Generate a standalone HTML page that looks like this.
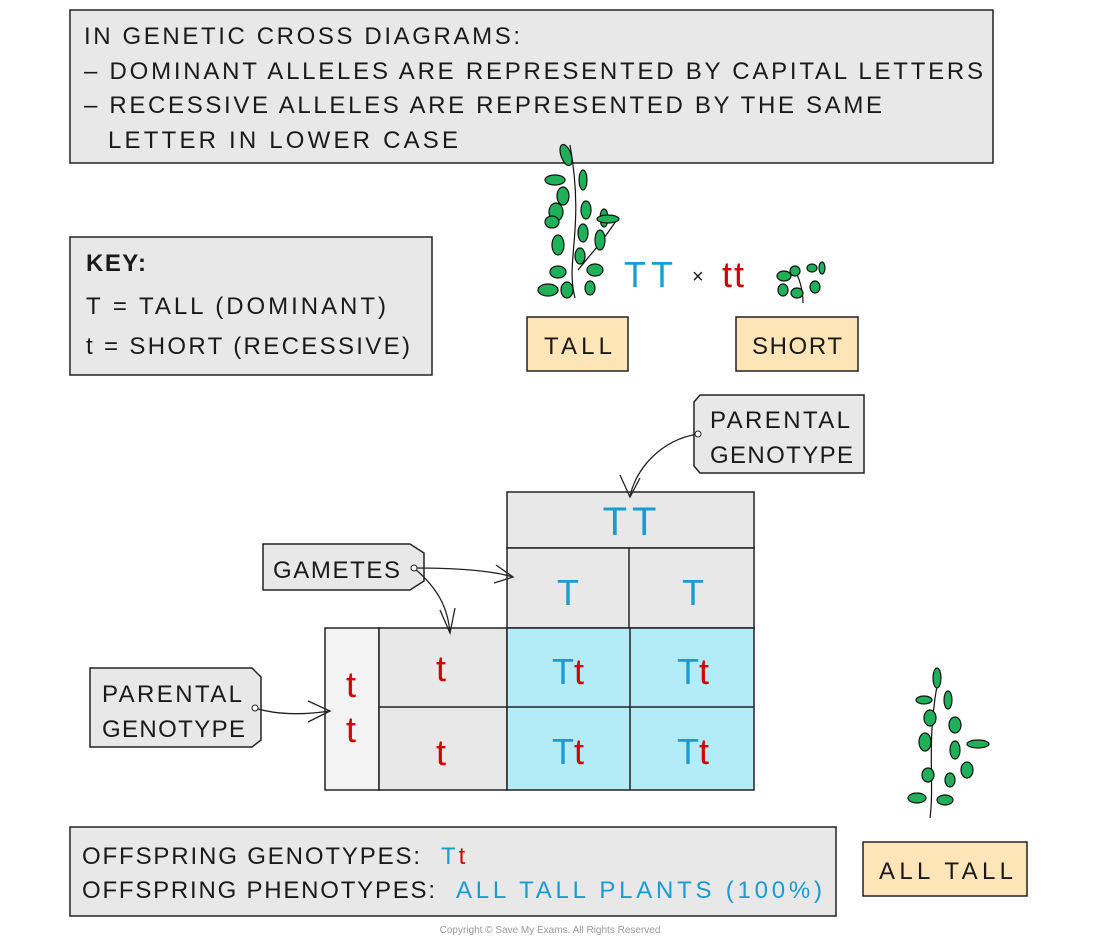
<!DOCTYPE html>
<html><head><meta charset="utf-8"><style>
html,body{margin:0;padding:0;background:#fff}
svg{display:block}
text{font-family:"Liberation Sans",sans-serif;fill:#1a1a1a}
</style></head><body>
<svg width="1100" height="941" viewBox="0 0 1100 941" xmlns="http://www.w3.org/2000/svg">
<g stroke="#222" stroke-width="1.5">
<rect x="70" y="10" width="923" height="153" fill="#e8e8e8"/>
<rect x="70" y="237" width="362" height="138" fill="#e8e8e8"/>
<rect x="527" y="317" width="101" height="54" fill="#fde5b8"/>
<rect x="736" y="317" width="122" height="54" fill="#fde5b8"/>
<path d="M700 395 H864 V473 H700 L694 466 V402 Z" fill="#e8e8e8"/>
<path d="M263 544 H410 L424 553 V581 L410 590 H263 Z" fill="#e8e8e8"/>
<path d="M90 668 H252 L261 677 V740 L252 747 H90 Z" fill="#e8e8e8"/>
<rect x="507" y="492" width="247" height="56" fill="#e8e8e8"/>
<rect x="507" y="548" width="247" height="80" fill="#e8e8e8"/>
<line x1="629" y1="548" x2="629" y2="628"/>
<rect x="325" y="628" width="54" height="162" fill="#f3f3f3"/>
<rect x="379" y="628" width="128" height="162" fill="#e8e8e8"/>
<line x1="379" y1="707" x2="507" y2="707"/>
<rect x="507" y="628" width="247" height="162" fill="#b3ebf7"/>
<line x1="630" y1="628" x2="630" y2="790"/>
<line x1="507" y1="707" x2="754" y2="707"/>
<rect x="70" y="827" width="766" height="89" fill="#e8e8e8"/>
<rect x="863" y="842" width="164" height="54" fill="#fde5b8"/>
</g>
<g fill="none" stroke="#222" stroke-width="1.3">
<path d="M698 434 C660 440 635 470 630 497"/><path d="M620 475 L630 497 L640 478"/>
<path d="M414 568 C450 568 490 570 513 577"/><path d="M496 565 L513 577 L494 583"/>
<path d="M414 568 C440 590 448 610 450 633"/><path d="M440 610 L450 633 L455 608"/>
<path d="M255 708 C280 716 310 714 330 711"/><path d="M308 701 L330 711 L308 722"/>
</g>
<circle cx="698" cy="434" r="3" fill="#fff" stroke="#222"/>
<circle cx="414" cy="568" r="3" fill="#fff" stroke="#222"/>
<circle cx="255" cy="708" r="3" fill="#fff" stroke="#222"/>
<g font-size="24">
<text x="84" y="44" textLength="436">IN GENETIC CROSS DIAGRAMS:</text>
<text x="84" y="79" textLength="899">– DOMINANT ALLELES ARE REPRESENTED BY CAPITAL LETTERS</text>
<text x="84" y="113" textLength="798">– RECESSIVE ALLELES ARE REPRESENTED BY THE SAME</text>
<text x="108" y="148" textLength="350">LETTER IN LOWER CASE</text>
<text x="86" y="271" textLength="60" font-weight="bold">KEY:</text>
<text x="86" y="314" textLength="300">T = TALL (DOMINANT)</text>
<text x="86" y="354" textLength="324">t = SHORT (RECESSIVE)</text>
<text x="544" y="354" textLength="68">TALL</text>
<text x="752" y="354" textLength="90">SHORT</text>
<text x="710" y="428" textLength="140">PARENTAL</text>
<text x="710" y="463" textLength="143">GENOTYPE</text>
<text x="273" y="578" textLength="127">GAMETES</text>
<text x="102" y="702" textLength="140">PARENTAL</text>
<text x="102" y="737" textLength="143">GENOTYPE</text>
<text x="82" y="864" textLength="338">OFFSPRING GENOTYPES:</text>
<text x="441" y="864" style="fill:#1a9bd1" letter-spacing="3">T<tspan style="fill:#d40000">t</tspan></text>
<text x="82" y="898" textLength="353">OFFSPRING PHENOTYPES:</text>
<text x="456" y="898" textLength="366" style="fill:#1a9bd1">ALL TALL PLANTS (100%)</text>
<text x="879" y="879" textLength="134">ALL TALL</text>
</g>
<g font-size="36">
<text x="624" y="287" style="fill:#1a9bd1" letter-spacing="5">TT</text>
<text x="692" y="283" font-size="20">×</text>
<text x="722" y="287" style="fill:#d40000" letter-spacing="2">tt</text>
<text x="632" y="535" text-anchor="middle" style="fill:#1a9bd1" font-size="40" letter-spacing="5">TT</text>
<text x="568" y="605" text-anchor="middle" style="fill:#1a9bd1">T</text>
<text x="693" y="605" text-anchor="middle" style="fill:#1a9bd1">T</text>
<text x="441" y="681" text-anchor="middle" style="fill:#d40000">t</text>
<text x="441" y="765" text-anchor="middle" style="fill:#d40000">t</text>
<text x="351" y="697" text-anchor="middle" style="fill:#d40000">t</text>
<text x="351" y="742" text-anchor="middle" style="fill:#d40000">t</text>
<text x="568" y="684" text-anchor="middle" style="fill:#1a9bd1">T<tspan style="fill:#d40000">t</tspan></text>
<text x="693" y="684" text-anchor="middle" style="fill:#1a9bd1">T<tspan style="fill:#d40000">t</tspan></text>
<text x="568" y="764" text-anchor="middle" style="fill:#1a9bd1">T<tspan style="fill:#d40000">t</tspan></text>
<text x="693" y="764" text-anchor="middle" style="fill:#1a9bd1">T<tspan style="fill:#d40000">t</tspan></text>
</g>
<text x="550" y="933" text-anchor="middle" font-size="10" style="fill:#999">Copyright © Save My Exams. All Rights Reserved</text>
<g stroke="#111" stroke-width="1.2" fill="#1fb15a">
<path d="M575 298 C565 260 585 230 570 145" fill="none"/>
<path d="M578 270 C590 255 600 245 618 218" fill="none"/>
<ellipse cx="566" cy="155" rx="5" ry="11" transform="rotate(-20 566 155)"/>
<ellipse cx="555" cy="180" rx="10" ry="5"/>
<ellipse cx="583" cy="180" rx="4" ry="10"/>
<ellipse cx="563" cy="196" rx="6" ry="9"/>
<ellipse cx="556" cy="212" rx="7" ry="9"/>
<ellipse cx="586" cy="210" rx="5" ry="9"/>
<ellipse cx="604" cy="218" rx="4" ry="9"/>
<ellipse cx="608" cy="219" rx="11" ry="4"/>
<ellipse cx="552" cy="222" rx="7" ry="6"/>
<ellipse cx="583" cy="233" rx="5" ry="9"/>
<ellipse cx="558" cy="245" rx="6" ry="10"/>
<ellipse cx="600" cy="240" rx="5" ry="10"/>
<ellipse cx="580" cy="256" rx="5" ry="8"/>
<ellipse cx="558" cy="272" rx="8" ry="6"/>
<ellipse cx="595" cy="270" rx="8" ry="6"/>
<ellipse cx="548" cy="290" rx="10" ry="6"/>
<ellipse cx="567" cy="290" rx="6" ry="8"/>
<ellipse cx="590" cy="288" rx="5" ry="7"/>
<path d="M803 303 C803 290 800 280 795 270" fill="none"/>
<ellipse cx="784" cy="276" rx="7" ry="5"/>
<ellipse cx="795" cy="271" rx="5" ry="5"/>
<ellipse cx="812" cy="268" rx="5" ry="4"/>
<ellipse cx="822" cy="268" rx="3" ry="6"/>
<ellipse cx="783" cy="290" rx="5" ry="6"/>
<ellipse cx="797" cy="293" rx="6" ry="5"/>
<ellipse cx="815" cy="287" rx="5" ry="6"/>
<path d="M930 818 C935 780 925 740 940 670" fill="none"/>
<ellipse cx="937" cy="678" rx="4" ry="10"/>
<ellipse cx="924" cy="700" rx="8" ry="4"/>
<ellipse cx="948" cy="700" rx="4" ry="9"/>
<ellipse cx="930" cy="718" rx="6" ry="8"/>
<ellipse cx="955" cy="725" rx="6" ry="8"/>
<ellipse cx="978" cy="744" rx="11" ry="4"/>
<ellipse cx="925" cy="742" rx="6" ry="9"/>
<ellipse cx="955" cy="750" rx="5" ry="9"/>
<ellipse cx="967" cy="770" rx="6" ry="8"/>
<ellipse cx="928" cy="775" rx="6" ry="7"/>
<ellipse cx="950" cy="780" rx="5" ry="7"/>
<ellipse cx="917" cy="798" rx="9" ry="5"/>
<ellipse cx="945" cy="800" rx="8" ry="5"/>
</g>
</svg>
</body></html>
